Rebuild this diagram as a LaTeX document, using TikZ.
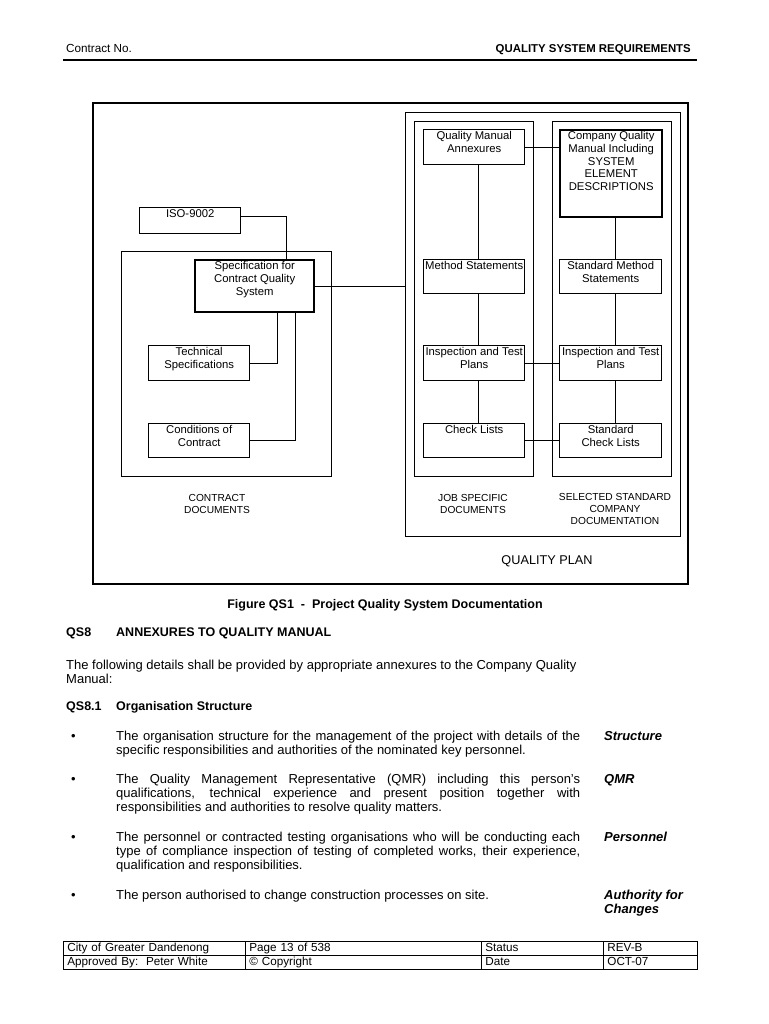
\documentclass[tikz,border=0pt]{standalone}
\usepackage{fontspec}
\setmainfont{Liberation Sans}
\usetikzlibrary{positioning}

\tikzset{
  frame/.style={line width=2.8pt},
  group/.style={draw, line width=0.9pt, inner sep=0pt, anchor=north west},
  docbox/.style={draw, line width=1.4pt, inner sep=0pt, anchor=north west, font=\fontsize{11.3}{12.7}\selectfont},
  keybox/.style={docbox, line width=2.4pt},
  link/.style={line width=0.9pt},
  groupname/.style={align=center, anchor=base, inner sep=0pt, font=\fontsize{10.2}{11.8}\selectfont},
  body/.style={anchor=base west, inner sep=0pt, font=\fontsize{13}{14}\selectfont},
  heading/.style={body, font=\fontsize{12.5}{14}\selectfont\bfseries},
  side/.style={body, align=left, font=\fontsize{13}{14}\selectfont\bfseries\itshape},
  cell/.style={draw, line width=0.8pt, anchor=north west, inner xsep=4pt, inner ysep=0pt, minimum height=14pt, text height=8.6pt, text depth=2.4pt, align=left, font=\fontsize{11.7}{14}\selectfont},
}
\newcommand{\boxtext}[3]{\parbox[t][#2pt][t]{#1pt}{\centering\vspace*{1.5pt}#3}}

\begin{document}
\begin{tikzpicture}[x=1pt,y=-1pt]
\useasboundingbox[fill=white] (0,0) rectangle (768,1024);

% page header
\node[body, font=\fontsize{11.7}{14}\selectfont] (contractno) at (66,53) {Contract No.};
\node[body, anchor=base east, font=\fontsize{11.4}{14}\selectfont\bfseries] (title) at (691,53) {QUALITY SYSTEM REQUIREMENTS};
\draw[line width=1.3pt] (63,60) -- (697,60);

% figure frame and groups
\draw[frame] (93,103) rectangle (688,584);
\node[group, minimum width=210pt, minimum height=225pt] (contract) at (121,251) {};
\node[group, minimum width=275pt, minimum height=424pt] (qplan) at (405,112) {};
\node[group, minimum width=119pt, minimum height=355pt] (job) at (414,121) {};
\node[group, minimum width=119pt, minimum height=355pt] (selected) at (552,121) {};

% contract documents
\node[docbox] (iso) at (139,207) {\boxtext{101}{26}{ISO-9002}};
\node[keybox] (spec) at (194,259) {\boxtext{119}{52}{Specification for\\Contract Quality\\System}};
\node[docbox] (tech) at (148,345) {\boxtext{101}{35}{Technical\\Specifications}};
\node[docbox] (cond) at (148,423) {\boxtext{101}{34}{Conditions of\\Contract}};

% job specific documents
\node[docbox] (qma) at (423,129) {\boxtext{101}{35}{Quality Manual\\Annexures}};
\node[docbox] (meth) at (423,259) {\boxtext{101}{34}{Method Statements}};
\node[docbox] (itp) at (423,345) {\boxtext{101}{35}{Inspection and Test\\Plans}};
\node[docbox] (chk) at (423,423) {\boxtext{101}{34}{Check Lists}};

% selected standard company documentation
\node[keybox] (cqm) at (559,129) {\boxtext{102}{87}{Company Quality\\Manual Including\\SYSTEM\\ELEMENT\\DESCRIPTIONS}};
\node[docbox] (smeth) at (559,259) {\boxtext{102}{34}{Standard Method\\Statements}};
\node[docbox] (sitp) at (559,345) {\boxtext{102}{35}{Inspection and Test\\Plans}};
\node[docbox] (schk) at (559,423) {\boxtext{102}{34}{Standard\\Check Lists}};

% connectors
\draw[link] ([yshift=4pt]iso.east) -| ([xshift=31.5pt]spec.north);
\draw[link] (spec.east) -- (spec.east -| qplan.west);
\draw[link] ([xshift=22.5pt]spec.south) |- (tech.east);
\draw[link] ([xshift=40.5pt]spec.south) |- (cond.east);
\draw[link] ([xshift=4.5pt]qma.south) -- ([xshift=4.5pt]meth.north);
\draw[link] ([xshift=4.5pt]meth.south) -- ([xshift=4.5pt]itp.north);
\draw[link] ([xshift=4.5pt]itp.south) -- ([xshift=4.5pt]chk.north);
\draw[link] ([xshift=5pt]smeth.north |- cqm.south) -- ([xshift=5pt]smeth.north);
\draw[link] ([xshift=5pt]smeth.south) -- ([xshift=5pt]sitp.north);
\draw[link] ([xshift=5pt]sitp.south) -- ([xshift=5pt]schk.north);
\draw[link] (qma.east) -- (qma.east -| cqm.west);
\draw[link] (itp.east) -- (sitp.west);
\draw[link] (chk.east) -- (schk.west);

% group names (base = last line)
\node[groupname] (contractname) at (217,513) {CONTRACT\\DOCUMENTS};
\node[groupname] (jobname) at (473,513) {JOB SPECIFIC\\DOCUMENTS};
\node[groupname] (selectedname) at (615,524) {SELECTED STANDARD\\COMPANY\\DOCUMENTATION};
\node[groupname, font=\fontsize{12.7}{14}\selectfont] (qplanname) at (547,564) {QUALITY PLAN};

% caption and text
\node[heading, anchor=base] (caption) at (385,608) {Figure QS1\ \ -\ \ Project Quality System Documentation};
\node[heading] (qs8) at (66,636) {QS8};
\node[heading] (qs8title) at (116,636) {ANNEXURES TO QUALITY MANUAL};
\node[body, align=left] (intro) at (66,683) {The following details shall be provided by appropriate annexures to the Company Quality\\Manual:};
\node[heading] (qs81) at (66,710) {QS8.1};
\node[heading] (qs81title) at (116,710) {Organisation Structure};

\foreach \y/\name/\txt in {
  740/bulletA/{The organisation structure for the management of the project with details of the\linebreak specific responsibilities and authorities of the nominated key personnel.},
  783/bulletB/{The Quality Management Representative (QMR) including this person's\linebreak qualifications, technical experience and present position together with\linebreak responsibilities and authorities to resolve quality matters.},
  841/bulletC/{The personnel or contracted testing organisations who will be conducting each\linebreak type of compliance inspection of testing of completed works, their experience,\linebreak qualification and responsibilities.},
  899/bulletD/{The person authorised to change construction processes on site.}}
{
  \node[body] (\name dot) at (71,\y) {•};
  \node[body, text width=464pt, align=justify, execute at begin node={\hyphenpenalty=10000\tolerance=10000}] (\name) at (116,\y) {\txt};
}
\node[side] (structure) at (604,740) {Structure};
\node[side] (qmr) at (604,783) {QMR};
\node[side] (personnel) at (604,841) {Personnel};
\node[side] (authority) at (604,913) {Authority for\\Changes};

% footer table
\foreach \x/\w/\y/\name/\txt in {
  63/182/941/cityc/{City of Greater Dandenong}, 245/236/941/pagec/{Page 13 of 538},
  481/122/941/statusc/{Status}, 603/94/941/revc/{REV-B},
  63/182/955/apprc/{Approved By:\ \ Peter White}, 245/236/955/copyc/{© Copyright},
  481/122/955/datec/{Date}, 603/94/955/octc/{OCT-07}}
  \node[cell, minimum width=\w pt, text width=\w pt-8pt] (\name) at (\x,\y) {\txt};
\end{tikzpicture}
\end{document}
